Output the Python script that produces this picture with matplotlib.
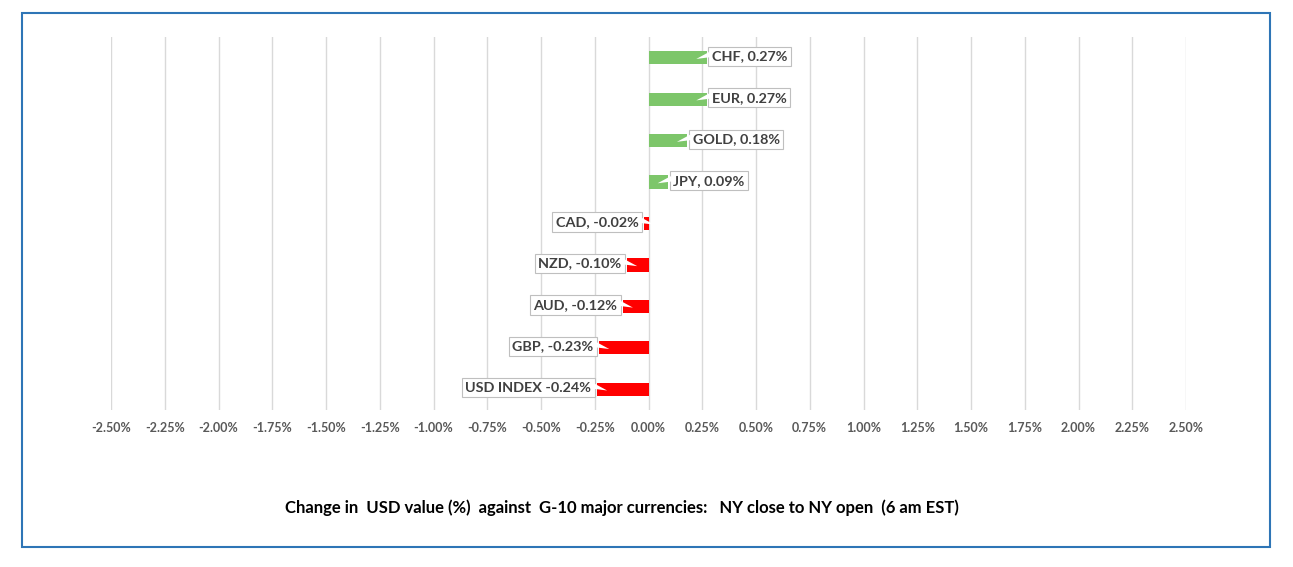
import matplotlib.pyplot as plt
from matplotlib.patches import Rectangle
from matplotlib.ticker import FuncFormatter, MultipleLocator

# data, bottom to top
labels = ["USD INDEX -0.24%", "GBP, -0.23%", "AUD, -0.12%", "NZD, -0.10%", "CAD, -0.02%",
          "JPY, 0.09%", "GOLD, 0.18%", "EUR, 0.27%", "CHF, 0.27%"]
values = [-0.24, -0.23, -0.12, -0.10, -0.02, 0.09, 0.18, 0.27, 0.27]

plt.rcParams['font.family'] = ['Lato', 'DejaVu Sans']

fig = plt.figure(figsize=(12.93, 5.67), dpi=100)
ax = fig.add_axes([111 / 1293, 1 - 410 / 567, (1186 - 111) / 1293, 373 / 567])

colors = ['#ff0000' if v < 0 else '#7dc66a' for v in values]
ypos = list(range(len(values)))
ax.barh(ypos, values, height=0.32, color=colors, zorder=2)

ax.set_xlim(-2.5, 2.5)
ax.set_ylim(-0.5, len(values) - 0.5)
ax.xaxis.set_major_locator(MultipleLocator(0.25))
ax.xaxis.set_major_formatter(FuncFormatter(lambda x, p: f"{x:.2f}%"))
ax.grid(axis='x', color='#d9d9d9', linewidth=1, zorder=0)
ax.set_yticks([])
ax.tick_params(axis='x', length=0, pad=9, labelsize=9, labelcolor='#595959')
for lab in ax.get_xticklabels():
    lab.set_fontweight('bold')
for s in ax.spines.values():
    s.set_visible(False)

# callout labels
for y, v, txt in zip(ypos, values, labels):
    if v >= 0:
        off, ha = 4, 'left'
    else:
        off, ha = -4, 'right'
    ax.annotate(txt, xy=(v, y), xytext=(off, 1), textcoords='offset points',
                ha=ha, va='center', fontsize=10.4, fontweight='bold', color='#404040',
                bbox=dict(boxstyle='square,pad=0.25', fc='white', ec='#bfbfbf', lw=0.8),
                zorder=3)
    # small pointer triangle from box towards bar end
    ax.annotate('', xy=(v - (0.06 if v >= 0 else -0.06), y - 0.05),
                xytext=(v + (0.03 if v >= 0 else -0.03), y + 0.1),
                arrowprops=dict(arrowstyle='wedge,tail_width=0.4', fc='white', ec='none'),
                zorder=3)

fig.text(622 / 1293, 1 - 508 / 567,
         "Change in  USD value (%)  against  G-10 major currencies:   NY close to NY open  (6 am EST)",
         ha='center', va='center', fontsize=12, fontweight='bold', color='black')

fig.patches.append(Rectangle((22 / 1293, 1 - 547 / 567), (1270 - 22) / 1293, (547 - 13) / 567,
                             transform=fig.transFigure, fill=False, ec='#2e75b6', lw=1.5))

fig.savefig("out.png", dpi=100, facecolor='white')
